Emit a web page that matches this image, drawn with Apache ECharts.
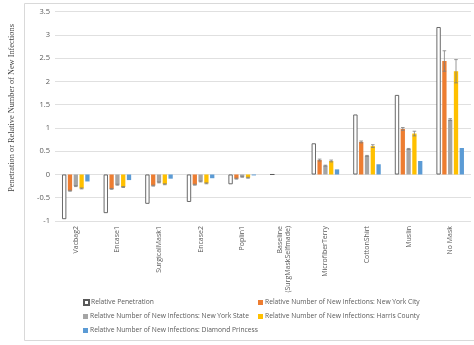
<!DOCTYPE html>
<html>
<head>
<meta charset="utf-8">
<script src="https://cdn.jsdelivr.net/npm/echarts@6/dist/echarts.min.js"></script>
<style>html,body{margin:0;padding:0;background:#fff}#c{width:474px;height:345px}</style>
</head>
<body>
<div id="c"></div>
<script>
var categories = ['Vacbag2','Encase1','SurgicalMask1','Encase2','Poplin1','Baseline\n(SurgMaskSelfmade)','MicrofiberTerry','CottonShirt','Muslin','No Mask'];
var seriesNames = ['Relative Penetration','Relative Number of New Infections: New York City','Relative Number of New Infections: New York State','Relative Number of New Infections: Harris County','Relative Number of New Infections: Diamond Princess'];
var penetration = [-0.96,-0.83,-0.63,-0.59,-0.21,0,0.67,1.29,1.71,3.17];
var nyc =        [-0.35,-0.31,-0.24,-0.22,-0.09,0,0.31,0.70,0.98,2.44];
var nyState =    [-0.25,-0.22,-0.17,-0.15,-0.05,0,0.19,0.40,0.55,1.18];
var harris =     [-0.30,-0.27,-0.21,-0.19,-0.07,0,0.29,0.61,0.88,2.22];
var diamond =    [-0.15,-0.12,-0.09,-0.08,-0.02,0,0.11,0.22,0.29,0.57];
var nycErr =     [0.01,0.01,0.01,0.01,0.01,0,0.02,0.02,0.03,0.22];
var nyStateErr = [0.01,0.01,0.01,0.01,0.01,0,0.01,0.01,0.01,0.02];
var harrisErr =  [0.01,0.01,0.01,0.01,0.01,0,0.02,0.03,0.05,0.25];
var yTicks = ['-1','-0.5','0','0.5','1','1.5','2','2.5','3','3.5'];
var colors = ['#ffffff','#ED7D31','#A5A5A5','#FFC000','#5B9BD5'];

var BW = 4.3, GAPPCT = 0.35;
var allVals = [penetration, nyc, nyState, harris, diamond];
var errs = [null, nycErr, nyStateErr, harrisErr, null];

function errorSeries(idx) {
  var vals = allVals[idx], e = errs[idx];
  var data = vals.map(function (v, i) { return [i, v - e[i], v + e[i]]; }).filter(function (d) { return d[2] - d[1] > 0; });
  return {
    type: 'custom', silent: true, z: 5,
    renderItem: function (params, api) {
      var g = BW * GAPPCT;
      var total = 5 * BW + 4 * g;
      var off = -total / 2 + BW / 2 + idx * (BW + g);
      var lo = api.coord([api.value(0), api.value(1)]);
      var hi = api.coord([api.value(0), api.value(2)]);
      var x = lo[0] + off;
      var st = { stroke: '#7f7f7f', lineWidth: 0.8 };
      return { type: 'group', children: [
        { type: 'line', shape: { x1: x, y1: lo[1], x2: x, y2: hi[1] }, style: st },
        { type: 'line', shape: { x1: x - 1.8, y1: lo[1], x2: x + 1.8, y2: lo[1] }, style: st },
        { type: 'line', shape: { x1: x - 1.8, y1: hi[1], x2: x + 1.8, y2: hi[1] }, style: st }
      ]};
    },
    encode: { x: 0, y: [1, 2] },
    data: data
  };
}

var series = allVals.map(function (vals, i) {
  return {
    name: seriesNames[i], type: 'bar', data: vals,
    barWidth: BW, barGap: (GAPPCT * 100) + '%',
    itemStyle: i === 0 ? { color: '#ffffff', borderColor: '#595959', borderWidth: 0.9 } : { color: colors[i] }
  };
});
[1, 2, 3].forEach(function (i) { series.push(errorSeries(i)); });

var legendFont = { fontFamily: 'Open Sans, sans-serif', fontSize: 6.7, color: '#595959' };
function legendAt(name, left, top) {
  return {
    data: [name], left: left, top: top, orient: 'horizontal',
    itemWidth: 5, itemHeight: 5, itemGap: 2, padding: 0, selectedMode: false,
    textStyle: Object.assign({ padding: [0, 0, 0, -3] }, legendFont),
    icon: 'rect'
  };
}

var chart = echarts.init(document.getElementById('c'), null, { renderer: 'canvas' });
chart.setOption({
  animation: false,
  color: colors,
  graphic: [
    { type: 'rect', shape: { x: 24.5, y: 3.5, width: 460, height: 337 }, style: { fill: 'none', stroke: '#d9d9d9', lineWidth: 1 }, silent: true },
    { type: 'text', x: 12, y: 108, rotation: Math.PI / 2,
      style: { text: 'Penetration or Relative Number of New Infections', fontFamily: 'Liberation Serif, serif', fontSize: 8.3, fill: '#404040', align: 'center', verticalAlign: 'middle' } }
  ],
  grid: { left: 55, right: 3, top: 11.7, bottom: 124, containLabel: false },
  legend: [
    legendAt(seriesNames[0], 83, 299),
    legendAt(seriesNames[1], 258, 299),
    legendAt(seriesNames[2], 83, 313),
    legendAt(seriesNames[3], 258, 313),
    legendAt(seriesNames[4], 83, 327)
  ],
  xAxis: {
    type: 'category', data: categories,
    axisLine: { show: false, onZero: false }, axisTick: { show: false },
    axisLabel: { rotate: 90, interval: 0, margin: 5, fontSize: 7, lineHeight: 8, color: '#595959', fontFamily: 'Open Sans, sans-serif' }
  },
  yAxis: {
    type: 'value', min: -1, max: 3.5, interval: 0.5,
    axisLine: { show: false }, axisTick: { show: false },
    axisLabel: { margin: 5, fontSize: 7.5, color: '#595959', fontFamily: 'Open Sans, sans-serif',
      formatter: function (v) { var i = Math.round((v + 1) / 0.5); return yTicks[i]; } },
    splitLine: { lineStyle: { color: '#e0e0e0', width: 1 } }
  },
  series: series
});
</script>
</body>
</html>
